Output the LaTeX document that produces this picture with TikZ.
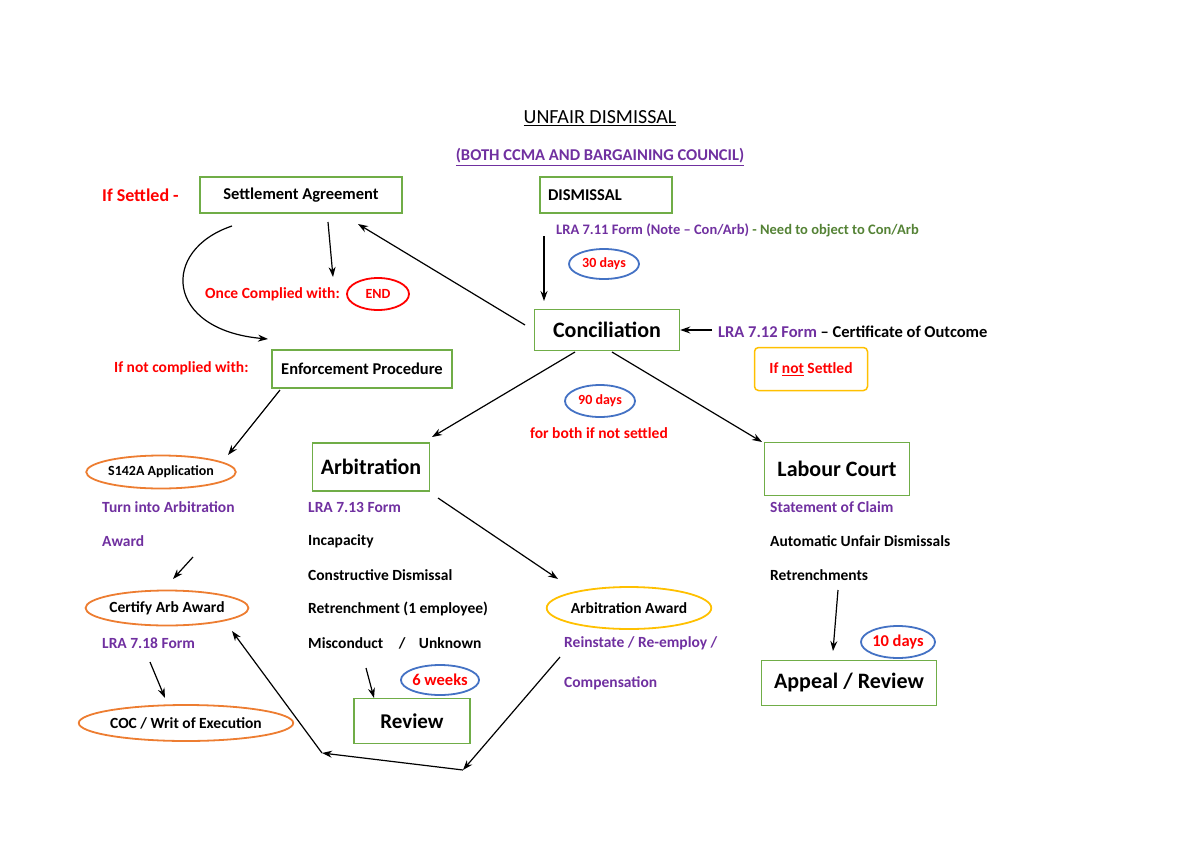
\documentclass[tikz,border=0pt]{standalone}
\usepackage{fontspec}
\setmainfont{Carlito}
\usetikzlibrary{arrows.meta,shapes.geometric}
\definecolor{gbox}{RGB}{112,173,71}
\definecolor{purp}{RGB}{112,48,160}
\definecolor{rd}{RGB}{255,0,0}
\definecolor{blu}{RGB}{68,114,196}
\definecolor{org}{RGB}{237,125,49}
\definecolor{yel}{RGB}{255,192,0}
\definecolor{grn}{RGB}{84,130,53}
\tikzset{
 gb/.style={draw=gbox,line width=1.5pt,inner sep=0pt,font=\fontsize{16.5}{18}\selectfont\bfseries},
 ell/.style={ellipse,line width=1.8pt,inner sep=0pt,font=\fontsize{14}{16}\selectfont\bfseries},
 tx/.style={anchor=west,inner sep=0pt,font=\fontsize{15.5}{17}\selectfont\bfseries},
 arr/.style={-{Stealth[length=10pt,width=7pt]},line width=1.2pt}
}
\begin{document}
\begin{tikzpicture}[x=1pt,y=-1pt]
\useasboundingbox (0,0) rectangle (1200,849);
\node[inner sep=0pt,font=\fontsize{20}{22}\selectfont] (t1) at (600,118) {\underline{UNFAIR DISMISSAL}};
\node[inner sep=0pt,font=\fontsize{16.5}{18}\selectfont\bfseries,text=purp] (t2) at (600,157) {\underline{(BOTH CCMA AND BARGAINING COUNCIL)}};
\node[tx,text=rd,font=\fontsize{18}{20}\selectfont\bfseries] (ifs) at (102,195) {If Settled -};
\node[gb,minimum width=202pt,minimum height=36pt] (sa) at (301,195) {Settlement Agreement};
\node[gb,minimum width=132pt,minimum height=36pt,text width=116pt,align=left] (dis) at (606,195) {DISMISSAL};
\node[tx,font=\fontsize{14.5}{16}\selectfont\bfseries] (l711) at (556,230) {\textcolor{purp}{LRA 7.11 Form (Note – Con/Arb)} \textcolor{grn}{- Need to object to Con/Arb}};
\node[ell,draw=blu,minimum width=70pt,minimum height=30pt,text=rd] (d30) at (604,264) {30 days};
\node[gb,minimum width=145pt,minimum height=41pt,font=\fontsize{22}{24}\selectfont\bfseries] (con) at (607,330) {Conciliation};
\coordinate (c1) at (544,236); \coordinate (c2) at (544,301);
\draw[arr] (c1) -- (c2);
\coordinate (c3) at (525,325);
\draw[arr] (c3) -- (358,224);
\coordinate (s1) at (328,222); \coordinate (s2) at (333,277);
\draw[arr] (s1) -- (s2);
\node[tx,text=rd] (once) at (205,294) {Once Complied with:};
\node[ell,draw=rd,minimum width=62pt,minimum height=32pt,text=rd] (end) at (378,294) {END};
\coordinate (cv1) at (232,226); \coordinate (cv2) at (268,339);
\draw[arr] (cv1) .. controls (160,250) and (165,330) .. (cv2);
\node[tx,text=rd] (inc) at (114,368) {If not complied with:};
\node[gb,minimum width=180pt,minimum height=38pt] (enf) at (362,369) {Enforcement Procedure};
\coordinate (a712) at (712,330);
\draw[arr] (a712) -- (con.east);
\node[tx,font=\fontsize{16.5}{18}\selectfont\bfseries] (l712) at (718,332) {\textcolor{purp}{LRA 7.12 Form} – Certificate of Outcome};
\node[draw=yel,line width=1.5pt,rounded corners=4pt,minimum width=113pt,minimum height=43pt,font=\fontsize{15.5}{17}\selectfont\bfseries,text=rd] (ins) at (811,369) {If \underline{not} Settled};
\node[ell,draw=blu,minimum width=70pt,minimum height=32pt,text=rd] (d90) at (600,401) {90 days};
\node[inner sep=0pt,font=\fontsize{15.5}{17}\selectfont\bfseries,text=rd] (fb) at (599,433) {for both if not settled};
\node[gb,minimum width=117pt,minimum height=48pt,font=\fontsize{22}{24}\selectfont\bfseries] (arb) at (371,467) {Arbitration};
\node[gb,minimum width=145pt,minimum height=53pt,font=\fontsize{22}{24}\selectfont\bfseries] (lc) at (837,469) {Labour Court};
\coordinate (k1) at (575,352); \coordinate (k2) at (612,352);
\draw[arr] (k1) -- (432,437);
\draw[arr] (k2) -- (762,442);
\coordinate (e1) at (280,390);
\draw[arr] (e1) -- (228,455);
\node[ell,draw=org,minimum width=148pt,minimum height=33pt,text=black] (s142) at (161,472) {S142A Application};
\node[tx,text=purp] (tia) at (102,507) {Turn into Arbitration};
\node[tx,text=purp] (aw) at (102,541) {Award};
\coordinate (w1) at (193,557);
\draw[arr] (w1) -- (173,579);
\node[ell,draw=org,minimum width=140pt,minimum height=35pt,font=\fontsize{15.5}{17}\selectfont\bfseries] (caa) at (167,608) {Certify Arb Award};
\node[tx,text=purp] (l718) at (102,643) {LRA 7.18 Form};
\coordinate (f1) at (150,662);
\draw[arr] (f1) -- (165,698);
\node[ell,draw=org,minimum width=180pt,minimum height=36pt,font=\fontsize{15.5}{17}\selectfont\bfseries] (coc) at (186,723) {COC / Writ of Execution};
\node[tx,text=purp] (l713) at (308,507) {LRA 7.13 Form};
\node[tx] (i1) at (308,541) {Incapacity};
\node[tx] (i2) at (308,575) {Constructive Dismissal};
\node[tx] (i3) at (308,609) {Retrenchment (1 employee)};
\node[tx] (i4) at (308,643) {Misconduct \hspace{12pt}/\hspace{10pt} Unknown};
\coordinate (b1) at (438,498);
\draw[arr] (b1) -- (558,579);
\node[ell,draw=yel,minimum width=150pt,minimum height=42pt,font=\fontsize{15.5}{17}\selectfont\bfseries] (aa) at (629,608) {Arbitration Award};
\node[tx,text=purp] (rr) at (564,643) {Reinstate / Re-employ /};
\node[tx,text=purp] (cp) at (564,683) {Compensation};
\coordinate (m1) at (366,668);
\draw[arr] (m1) -- (374,698);
\node[ell,draw=blu,minimum width=72pt,minimum height=30pt,text=rd,font=\fontsize{16.5}{18}\selectfont\bfseries] (w6) at (440,680) {6 weeks};
\node[gb,minimum width=116pt,minimum height=45pt,font=\fontsize{21}{23}\selectfont\bfseries] (rev) at (412,721) {Review};
\coordinate (r1) at (560,657); \coordinate (r2) at (463,770); \coordinate (r3) at (322,753);
\draw[arr] (r1) -- (r2);
\draw[arr] (r2) -- (r3);
\draw[arr] (r3) -- (232,631);
\node[tx,text=purp] (soc) at (770,507) {Statement of Claim};
\node[tx] (aud) at (770,541) {Automatic Unfair Dismissals};
\node[tx] (ret) at (770,575) {Retrenchments};
\coordinate (p1) at (838,590);
\draw[arr] (p1) -- (833,651);
\node[ell,draw=blu,minimum width=74pt,minimum height=32pt,text=rd,font=\fontsize{16.5}{18}\selectfont\bfseries] (d10) at (898,642) {10 days};
\node[gb,minimum width=175pt,minimum height=45pt,font=\fontsize{22}{24}\selectfont\bfseries] (ap) at (849,683) {Appeal / Review};
\end{tikzpicture}
\end{document}
